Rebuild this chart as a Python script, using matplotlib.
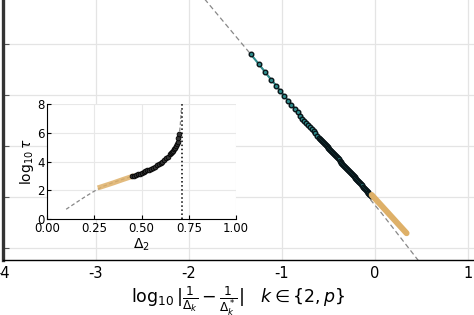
import matplotlib
matplotlib.use('Agg')
import matplotlib.pyplot as plt

plt.rcParams['axes.unicode_minus'] = False
plt.rcParams['mathtext.fontset'] = 'dejavusans'

# main panel: log10|1/D_k - 1/D_k*|  vs  log10 tau
fit_x = [-2.0, -1.796, -1.337, 0.072, 0.462, 0.6]
fit_y = [7.25, 6.80, 5.80, 2.68, 1.765, 1.44]

pts_x = [-1.337, -1.247, -1.179, -1.118, -1.061, -1.018, -0.978, -0.932, -0.900,
         -0.860, -0.831, -0.803, -0.78, -0.76, -0.74, -0.72, -0.70, -0.68, -0.66,
         -0.64, -0.62, -0.60, -0.59, -0.58, -0.57, -0.56, -0.55, -0.54, -0.53,
         -0.52, -0.51, -0.50, -0.49, -0.48, -0.47, -0.46, -0.45, -0.44, -0.43,
         -0.42, -0.41, -0.40, -0.39, -0.38, -0.37, -0.36, -0.35, -0.34, -0.33,
         -0.32, -0.31, -0.30, -0.29, -0.28, -0.27, -0.26, -0.25, -0.24, -0.23,
         -0.22, -0.21, -0.20, -0.19, -0.18, -0.17, -0.16, -0.15, -0.14, -0.13,
         -0.12, -0.11, -0.10, -0.09, -0.08, -0.07, -0.06, -0.05, -0.04]
pts_y = [5.80, 5.60, 5.44, 5.30, 5.18, 5.07, 4.98, 4.89, 4.81,
         4.73, 4.66, 4.58, 4.53, 4.49, 4.45, 4.41, 4.37, 4.33, 4.29,
         4.25, 4.20, 4.16, 4.14, 4.12, 4.10, 4.08, 4.06, 4.04, 4.02,
         4.00, 3.98, 3.96, 3.94, 3.92, 3.90, 3.88, 3.86, 3.84, 3.82,
         3.80, 3.78, 3.76, 3.74, 3.71, 3.69, 3.67, 3.65, 3.63, 3.61,
         3.59, 3.57, 3.55, 3.53, 3.51, 3.49, 3.47, 3.45, 3.43, 3.41,
         3.39, 3.37, 3.35, 3.33, 3.31, 3.29, 3.27, 3.25, 3.23, 3.20,
         3.18, 3.16, 3.14, 3.12, 3.10, 3.08, 3.06, 3.04, 3.02]

tan_x = [-0.035, 0.05, 0.15, 0.25, 0.34]
tan_y = [3.04, 2.87, 2.67, 2.47, 2.29]

# inset: Delta_2 vs log10 tau
in_dash_x = [0.10, 0.15, 0.20, 0.25, 0.30, 0.35, 0.40, 0.45, 0.50, 0.55, 0.60,
             0.65, 0.68, 0.70, 0.705, 0.71]
in_dash_y = [0.68, 1.12, 1.55, 1.95, 2.30, 2.55, 2.77, 2.97, 3.25, 3.52, 3.98,
             4.50, 5.07, 5.92, 6.6, 7.6]
in_pts_x = [0.45, 0.46, 0.47, 0.48, 0.49, 0.50, 0.51, 0.52, 0.53, 0.54, 0.55,
            0.56, 0.57, 0.58, 0.59, 0.60, 0.61, 0.62, 0.63, 0.64, 0.65, 0.655,
            0.66, 0.665, 0.67, 0.675, 0.68, 0.685, 0.69, 0.695, 0.70]
in_pts_y = [2.97, 3.02, 3.07, 3.12, 3.17, 3.22, 3.28, 3.33, 3.39, 3.45, 3.52,
            3.59, 3.66, 3.74, 3.82, 3.91, 4.00, 4.10, 4.22, 4.35, 4.50, 4.58,
            4.66, 4.75, 4.85, 4.95, 5.07, 5.22, 5.40, 5.62, 5.90]
in_tan_x = [0.28, 0.35, 0.40, 0.45]
in_tan_y = [2.22, 2.52, 2.75, 2.97]
delta_star = 0.716

teal = '#2e8b8b'
sand = '#deb068'

fig = plt.figure(figsize=(4.74, 3.15), dpi=100)
ax = fig.add_axes([3/474, 55/315, 471/474, 260/315])

ax.plot(fit_x, fit_y, color='#888888', ls=(0, (4, 2.5)), lw=0.9, zorder=1)
ax.plot(pts_x, pts_y, color=teal, lw=1.5, marker='o', ms=3.3,
        mfc=teal, mec='#081418', mew=1.0, zorder=2)
ax.plot(tan_x, tan_y, color=sand, lw=4.3, solid_capstyle='round', zorder=3)

ax.set_xlim(-4, 1.065)
ax.set_ylim(1.765, 6.86)
ax.set_xticks([-4, -3, -2, -1, 0, 1])
ax.set_yticks([2, 3, 4, 5, 6])
ax.set_yticklabels([])
ax.tick_params(axis='x', length=0, labelsize=10.5, pad=4)
ax.tick_params(axis='y', direction='in', length=4, color='#555555')
ax.grid(True, color='#e4e4e4', lw=0.9)
ax.set_axisbelow(True)
for s in ['top', 'right']:
    ax.spines[s].set_visible(False)
ax.spines['left'].set_linewidth(2.4)
ax.spines['left'].set_color('#333333')
ax.spines['bottom'].set_linewidth(1.0)
ax.set_xlabel(r'$\log_{10}|\frac{1}{\Delta_k} - \frac{1}{\Delta_k^*}|\quad k \in \{2, p\}$',
              fontsize=12.5, labelpad=3)

# inset
axi = fig.add_axes([47.3/474, 96/315, 188.7/474, 114.7/315])
axi.plot(in_dash_x, in_dash_y, color='#888888', ls=(0, (3, 2)), lw=0.9, zorder=1)
axi.plot(in_tan_x, in_tan_y, color=sand, lw=3.6, alpha=0.85, zorder=2)
axi.plot(in_pts_x, in_pts_y, ls='none', marker='o', ms=3.4,
         mfc='#333333', mec='black', mew=0.6, zorder=3)
axi.axvline(delta_star, color='black', ls=':', lw=1.1, zorder=4)
axi.set_xlim(0, 1)
axi.set_ylim(0, 8)
axi.set_xticks([0, 0.25, 0.5, 0.75, 1.0])
axi.set_xticklabels(['0.00', '0.25', '0.50', '0.75', '1.00'])
axi.set_yticks([0, 2, 4, 6, 8])
axi.tick_params(direction='in', length=3, labelsize=8.5, pad=2)
axi.grid(True, color='#e8e8e8', lw=0.8)
axi.set_axisbelow(True)
for s in ['top', 'right']:
    axi.spines[s].set_visible(False)
axi.set_xlabel(r'$\Delta_2$', fontsize=10, labelpad=1)
axi.set_ylabel(r'$\log_{10}\tau$', fontsize=10, labelpad=1)

plt.savefig('out.png', dpi=100)
